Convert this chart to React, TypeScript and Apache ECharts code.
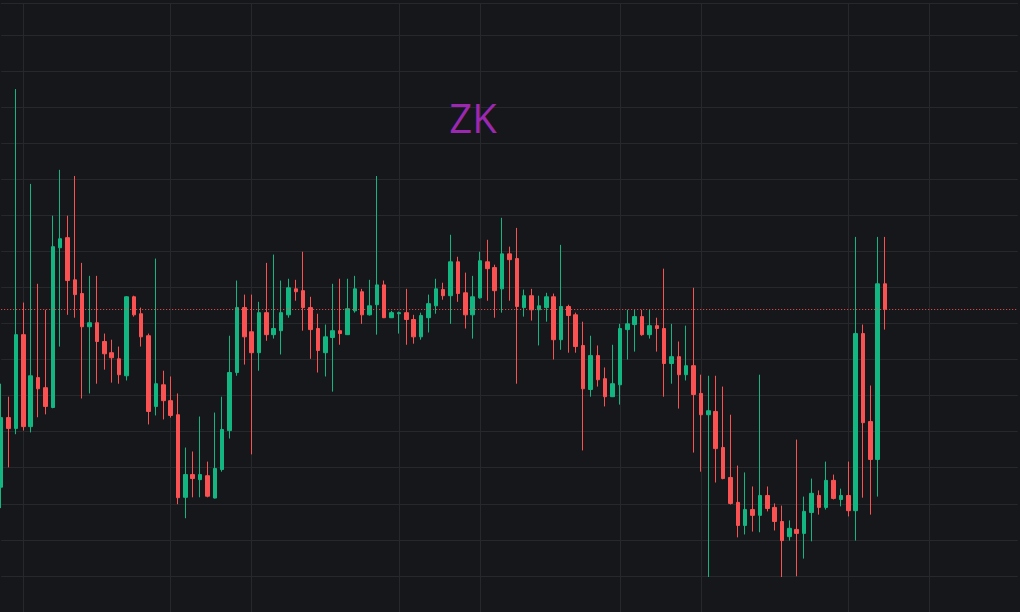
import React, { useEffect, useRef } from "react";
import * as echarts from "echarts";

// Candle values (price), one entry per candle
const opens = [
  0.04346, 0.04539, 0.04509, 0.04769, 0.04514, 0.0465, 0.04622, 0.04567, 0.0501, 0.05038,
  0.04921, 0.04883, 0.04791, 0.04802, 0.0475, 0.04719, 0.04702, 0.04655, 0.04874, 0.04827,
  0.04766, 0.0457, 0.0463, 0.04586, 0.04547, 0.04318, 0.04381, 0.04367, 0.04378, 0.04316,
  0.04395, 0.04503, 0.04664, 0.04844, 0.04777, 0.04719, 0.0483, 0.04769, 0.0478, 0.04824,
  0.04896, 0.04891, 0.04844, 0.04786, 0.04719, 0.04761, 0.0478, 0.04769, 0.04835, 0.04888,
  0.04824, 0.04852, 0.04907, 0.04816, 0.04827, 0.0483, 0.04811, 0.04763, 0.04816, 0.04849,
  0.04894, 0.04877, 0.04971, 0.04885, 0.04824, 0.04871, 0.04971, 0.04955, 0.04896, 0.04993,
  0.0498, 0.04844, 0.04877, 0.04838, 0.04844, 0.04874, 0.04755, 0.04847, 0.04824, 0.04739,
  0.04617, 0.04711, 0.04647, 0.04597, 0.0463, 0.04783, 0.04797, 0.04819, 0.04769, 0.04794,
  0.04786, 0.04689, 0.04708, 0.04658, 0.04683, 0.04606, 0.04547, 0.04556, 0.04456, 0.04373,
  0.04304, 0.0424, 0.04284, 0.04268, 0.04323, 0.0429, 0.04251, 0.04209, 0.04229, 0.04218,
  0.04276, 0.04323, 0.0429, 0.04365, 0.04312, 0.04323, 0.04281, 0.04772, 0.04528, 0.04423,
  0.0491,
];
const closes = [
  0.04539, 0.04509, 0.04769, 0.04514, 0.04655, 0.04619, 0.0457, 0.05013, 0.05035, 0.04919,
  0.0488, 0.04791, 0.04802, 0.0475, 0.04716, 0.04705, 0.04658, 0.04874, 0.04824, 0.04763,
  0.04556, 0.04633, 0.04586, 0.04545, 0.04317, 0.04381, 0.0437, 0.04381, 0.04321, 0.04398,
  0.04506, 0.04664, 0.04844, 0.04763, 0.04719, 0.0483, 0.04769, 0.04786, 0.0483, 0.04899,
  0.04888, 0.04844, 0.04783, 0.04725, 0.04763, 0.0478, 0.04772, 0.04841, 0.04896, 0.04824,
  0.04849, 0.04907, 0.04816, 0.0483, 0.0483, 0.04811, 0.04763, 0.04822, 0.04855, 0.04896,
  0.04877, 0.04971, 0.04883, 0.04824, 0.04874, 0.04974, 0.04952, 0.04891, 0.04993, 0.04977,
  0.04847, 0.04877, 0.04838, 0.04849, 0.04874, 0.04755, 0.04847, 0.04822, 0.04736, 0.04619,
  0.04711, 0.04644, 0.04597, 0.04633, 0.04786, 0.04799, 0.04819, 0.04769, 0.04794, 0.04786,
  0.04689, 0.04708, 0.04658, 0.04683, 0.04603, 0.04547, 0.04558, 0.04453, 0.0437, 0.04301,
  0.0424, 0.04284, 0.04268, 0.04323, 0.04287, 0.04251, 0.04198, 0.04232, 0.04218, 0.04279,
  0.04329, 0.0429, 0.04365, 0.04315, 0.04323, 0.04281, 0.04772, 0.04525, 0.04423, 0.0491,
  0.048396,
];
const lows = [
  0.04288, 0.04401, 0.04493, 0.04503, 0.04498, 0.0454, 0.04548, 0.04565, 0.04736, 0.04824,
  0.04816, 0.04592, 0.04606, 0.04633, 0.04672, 0.04636, 0.04633, 0.04642, 0.04819, 0.04736,
  0.0452, 0.04545, 0.04534, 0.04539, 0.04299, 0.0426, 0.04318, 0.04318, 0.04318, 0.04315,
  0.04389, 0.04481, 0.04655, 0.04686, 0.04437, 0.04669, 0.04752, 0.04758, 0.04714, 0.04816,
  0.04863, 0.0478, 0.04702, 0.04664, 0.04653, 0.04611, 0.04741, 0.04768, 0.0483, 0.04799,
  0.04822, 0.04769, 0.04815, 0.04815, 0.04772, 0.04741, 0.04744, 0.04755, 0.04775, 0.04827,
  0.04866, 0.04799, 0.0486, 0.04786, 0.04758, 0.04869, 0.04863, 0.04816, 0.0483, 0.04863,
  0.04633, 0.04819, 0.04808, 0.04739, 0.04805, 0.047, 0.04727, 0.04719, 0.04719, 0.04448,
  0.04597, 0.04625, 0.0457, 0.04596, 0.04575, 0.047, 0.04722, 0.04766, 0.04758, 0.04722,
  0.04597, 0.04633, 0.04564, 0.04642, 0.04442, 0.04389, 0.04097, 0.04359, 0.04368, 0.04298,
  0.04207, 0.04215, 0.04223, 0.04221, 0.04279, 0.04226, 0.04097, 0.04198, 0.04099, 0.04148,
  0.04196, 0.0427, 0.04284, 0.04312, 0.04293, 0.04265, 0.04198, 0.04317, 0.0427, 0.0432,
  0.04783,
];
const highs = [
  0.04633, 0.04597, 0.0545, 0.04858, 0.05187, 0.0491, 0.04838, 0.05099, 0.05226, 0.05099,
  0.05209, 0.04968, 0.04932, 0.04932, 0.04772, 0.04755, 0.04736, 0.04876, 0.04877, 0.04844,
  0.04772, 0.0498, 0.04669, 0.04653, 0.04606, 0.04456, 0.04445, 0.04542, 0.04417, 0.04553,
  0.04597, 0.04766, 0.04919, 0.0488, 0.0488, 0.0486, 0.04968, 0.04991, 0.04919, 0.04924,
  0.04921, 0.04999, 0.04874, 0.04827, 0.04797, 0.0491, 0.04924, 0.04924, 0.04932, 0.04896,
  0.04921, 0.05209, 0.04919, 0.04835, 0.04833, 0.04896, 0.04824, 0.0483, 0.0488, 0.04924,
  0.04913, 0.05046, 0.04985, 0.04941, 0.04932, 0.04999, 0.05032, 0.04963, 0.05093, 0.05013,
  0.05065, 0.04894, 0.04896, 0.04877, 0.04885, 0.04883, 0.05018, 0.04852, 0.0483, 0.04805,
  0.04766, 0.04739, 0.04678, 0.04741, 0.04799, 0.04838, 0.04838, 0.04838, 0.04838, 0.04816,
  0.04952, 0.04799, 0.0475, 0.04794, 0.04899, 0.04658, 0.04655, 0.04655, 0.04625, 0.04547,
  0.04406, 0.04387, 0.04348, 0.04658, 0.04348, 0.04301, 0.04295, 0.04254, 0.04478, 0.0432,
  0.0437, 0.04337, 0.04417, 0.04381, 0.04342, 0.04417, 0.0504, 0.04797, 0.04628, 0.0504,
  0.0504,
];

// Time slots on the x axis (121 candles + empty space on the right)
const slotCount = 139;
const categories = Array.from({ length: slotCount }, (_, i) => `T${i}`);
// Slots where the time grid draws a vertical line
const timeGridSlots = [3, 23, 34, 54, 65, 84, 95, 115, 126];

const title = "ZK";

const BG = "#16171a";
const GRID = "#26282c";
const UP = "#13b681";
const DOWN = "#fa5252";

export default function App() {
  const ref = useRef<HTMLDivElement>(null);

  useEffect(() => {
    if (!ref.current) return;
    const chart = echarts.init(ref.current, null, { renderer: "svg" });
    const candles = opens.map((o, i) => [o, closes[i], lows[i], highs[i]]);
    const lastClose = closes[closes.length - 1];

    chart.setOption({
      animation: false,
      backgroundColor: BG,
      grid: { left: 1.2, right: 2.3, top: 3, bottom: -0.6 },
      xAxis: {
        type: "category",
        data: categories,
        boundaryGap: false,
        position: "top",
        axisLine: { show: true, onZero: false, lineStyle: { color: GRID, width: 1 } },
        axisTick: { show: false },
        axisLabel: { show: false },
        splitLine: {
          show: true,
          interval: (i: number) => timeGridSlots.includes(i),
          lineStyle: { color: GRID, width: 1 },
        },
      },
      yAxis: {
        type: "value",
        min: 0.04,
        max: 0.056886,
        interval: 0.001,
        axisLine: { show: false },
        axisTick: { show: false },
        axisLabel: { show: false },
        splitLine: { show: true, lineStyle: { color: GRID, width: 1 } },
      },
      graphic: [
        {
          type: "text",
          x: 473,
          y: 117,
          z: 10,
          style: {
            text: title,
            fill: "#9c27b0",
            fontSize: 40,
            fontFamily: '"Open Sans", "Noto Sans", sans-serif',
            align: "center",
            verticalAlign: "middle",
          },
        },
      ],
      series: [
        {
          type: "candlestick",
          data: candles,
          barWidth: 4,
          clip: false,
          itemStyle: {
            color: UP,
            color0: DOWN,
            borderColor: UP,
            borderColor0: DOWN,
            borderWidth: 1,
          },
          markLine: {
            silent: true,
            precision: 6,
            symbol: ["none", "none"],
            label: { show: false },
            lineStyle: { color: DOWN, type: [1, 2], dashOffset: 0.2, width: 1 },
            data: [{ yAxis: lastClose }],
          },
        },
      ],
    });
    return () => chart.dispose();
  }, []);

  return (
    <div
      ref={ref}
      style={{ position: "absolute", left: 0, top: 0, width: 1020, height: 612, background: BG }}
    />
  );
}
